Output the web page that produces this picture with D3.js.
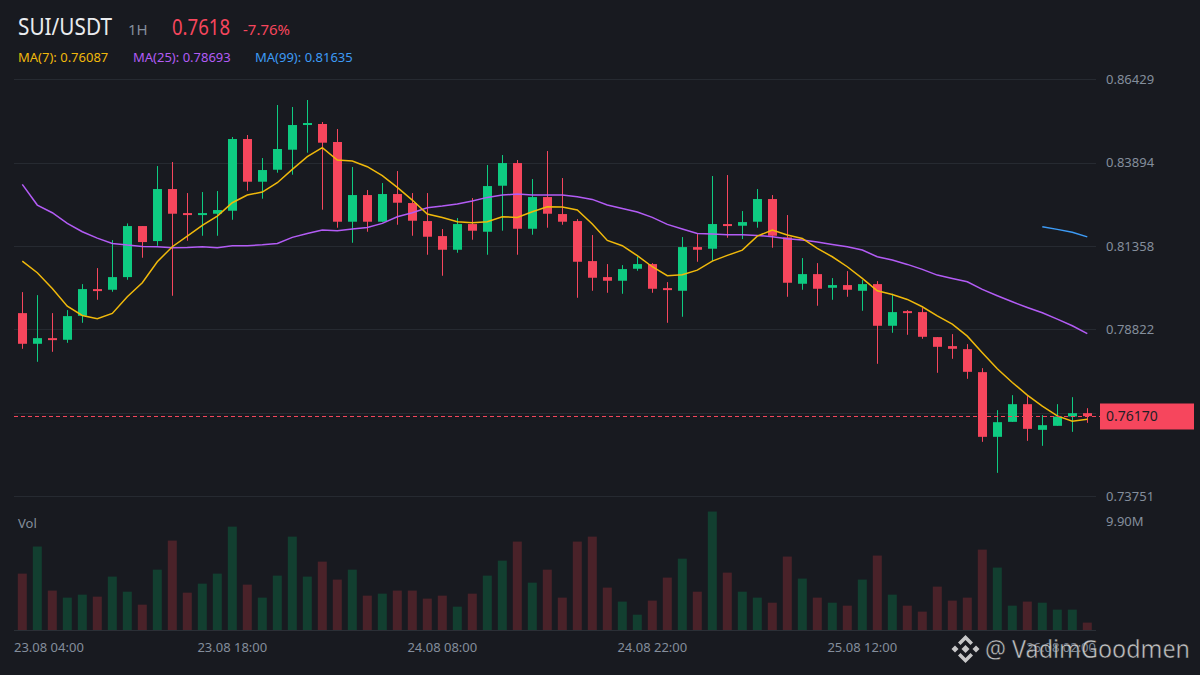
<!DOCTYPE html>
<html>
<head>
<meta charset="utf-8">
<script src="https://cdn.jsdelivr.net/npm/d3@7"></script>
<style>
  html, body { margin: 0; padding: 0; background: #181a20; }
  svg { display: block; font-family: "Noto Sans", "Open Sans", sans-serif; }
</style>
</head>
<body>
<svg id="chart" width="1200" height="675"></svg>
<script>
// candle values (23.08 04:00 ... 26.08 03:00, 1H)
var opens  = [0.79315,0.78382,0.78554,0.78504,0.79234,0.80046,0.80026,0.80411,0.81964,0.81507,
              0.83090,0.82359,0.82309,0.82339,0.82430,0.84612,0.83313,0.83678,0.84287,0.85048,
              0.85069,0.84521,0.82096,0.82907,0.82096,0.82938,0.82664,0.82116,0.81659,0.81243,
              0.82025,0.81791,0.83191,0.83881,0.81882,0.82846,0.82329,0.82116,0.80898,0.80411,
              0.80300,0.80665,0.80807,0.80076,0.79995,0.81324,0.81274,0.82025,0.81974,0.82096,
              0.82786,0.81619,0.80208,0.80502,0.80086,0.80168,0.79995,0.80198,0.78930,0.79376,
              0.79346,0.78585,0.78311,0.78219,0.77519,0.75551,0.76007,0.76545,0.75764,0.75886,
              0.76170,0.76271];
var highs  = [0.79954,0.79863,0.79315,0.79407,0.80198,0.80685,0.81537,0.82045,0.81964,0.83790,
              0.83912,0.82968,0.82999,0.83029,0.84673,0.84734,0.84034,0.85647,0.85586,0.85799,
              0.85130,0.84916,0.83760,0.83060,0.83273,0.83638,0.82968,0.82968,0.81872,0.82207,
              0.82816,0.83821,0.84125,0.83973,0.83394,0.84247,0.83425,0.82177,0.81690,0.80807,
              0.80776,0.81030,0.80837,0.80259,0.81629,0.81720,0.83486,0.83516,0.82420,0.83090,
              0.82907,0.82299,0.80990,0.80837,0.80381,0.80594,0.80320,0.80289,0.79904,0.79407,
              0.79468,0.78585,0.78676,0.78372,0.77641,0.76363,0.76819,0.76789,0.76210,0.76545,
              0.76758,0.76423];
var lows   = [0.78230,0.77834,0.78138,0.78412,0.79021,0.79721,0.79965,0.80330,0.81000,0.81365,
              0.79843,0.81517,0.81669,0.81669,0.82156,0.83039,0.82796,0.83587,0.83526,0.84196,
              0.82461,0.81913,0.81456,0.81791,0.82096,0.82004,0.81669,0.81091,0.80452,0.81152,
              0.81548,0.81091,0.81822,0.81091,0.81700,0.81913,0.82004,0.79782,0.79995,0.79934,
              0.79904,0.80604,0.79934,0.79021,0.79204,0.80878,0.80898,0.81609,0.81568,0.81913,
              0.81304,0.79812,0.80026,0.79539,0.79721,0.79812,0.79386,0.77773,0.78717,0.78656,
              0.78534,0.77499,0.77925,0.77316,0.75399,0.74455,0.76007,0.75429,0.75277,0.75886,
              0.75703,0.75977];
var closes = [0.78382,0.78554,0.78504,0.79224,0.80046,0.79985,0.80411,0.81964,0.81477,0.83090,
              0.82339,0.82309,0.82359,0.82451,0.84612,0.83313,0.83668,0.84308,0.85038,0.85099,
              0.84500,0.82096,0.82907,0.82096,0.82938,0.82674,0.82126,0.81639,0.81243,0.82025,
              0.81822,0.83181,0.83881,0.81882,0.82846,0.82339,0.82096,0.80878,0.80391,0.80300,
              0.80655,0.80807,0.80056,0.80026,0.81324,0.81243,0.82025,0.81964,0.82085,0.82786,
              0.81669,0.80239,0.80502,0.80056,0.80168,0.80026,0.80198,0.78930,0.79346,0.79325,
              0.78595,0.78290,0.78230,0.77529,0.75551,0.75997,0.76545,0.75794,0.75906,0.76170,
              0.76271,0.76180];
// volume in millions
var volumes = [5.12,7.58,3.58,2.94,3.21,3.03,4.85,3.48,2.30,5.48,
               8.12,3.39,4.21,5.12,9.39,4.12,2.94,4.94,8.48,4.85,
               6.21,4.58,5.48,3.12,3.30,3.58,3.58,2.85,3.12,2.12,
               3.30,4.94,6.30,8.03,4.30,5.48,2.94,8.03,8.48,3.85,
               2.58,1.39,2.67,4.76,6.48,3.48,10.76,5.21,3.48,2.94,
               2.48,6.67,4.67,2.94,2.48,2.21,4.58,6.76,3.21,2.21,
               1.67,3.94,2.67,2.94,7.30,5.67,2.21,2.58,2.48,1.85,
               1.85,0.67];
// moving averages as drawn
var ma7  = [0.80898,0.80543,0.80066,0.79528,0.79244,0.79143,0.79305,0.79812,0.80239,0.80878,
            0.81335,0.81659,0.81984,0.82268,0.82674,0.82907,0.82999,0.83283,0.83689,0.84074,
            0.84348,0.83973,0.83942,0.83770,0.83496,0.83141,0.82755,0.82329,0.82227,0.82096,
            0.82065,0.82096,0.82248,0.82227,0.82400,0.82552,0.82542,0.82451,0.82025,0.81527,
            0.81365,0.81061,0.80726,0.80452,0.80482,0.80624,0.80898,0.81071,0.81233,0.81659,
            0.81842,0.81690,0.81588,0.81284,0.81030,0.80726,0.80371,0.79995,0.79884,0.79731,
            0.79508,0.79234,0.78980,0.78615,0.78108,0.77621,0.77205,0.76819,0.76484,0.76190,
            0.76028,0.76087];
var ma25 = [0.83232,0.82603,0.82370,0.82045,0.81791,0.81598,0.81436,0.81385,0.81345,0.81335,
            0.81304,0.81314,0.81335,0.81304,0.81365,0.81365,0.81395,0.81436,0.81619,0.81740,
            0.81842,0.81822,0.81872,0.81923,0.82045,0.82248,0.82370,0.82522,0.82572,0.82633,
            0.82725,0.82836,0.82907,0.82938,0.82907,0.82907,0.82907,0.82857,0.82775,0.82603,
            0.82501,0.82390,0.82227,0.82014,0.81872,0.81740,0.81720,0.81700,0.81700,0.81680,
            0.81639,0.81578,0.81537,0.81477,0.81406,0.81335,0.81233,0.81030,0.80929,0.80797,
            0.80645,0.80472,0.80371,0.80269,0.80036,0.79843,0.79660,0.79488,0.79325,0.79133,
            0.78930,0.78693];
var ma99Start = 68;
var ma99 = [0.81942,0.81863,0.81775,0.81635];

var priceTicks = [0.86429,0.83894,0.81358,0.78822,0.76287,0.73751];
var timeTicks = [[0,"23.08 04:00"],[14,"23.08 18:00"],[28,"24.08 08:00"],
                 [42,"24.08 22:00"],[56,"25.08 12:00"],[70,"26.08 02:00"]];
var lastPrice = 0.76170;

var UP = "#0ecb81", DOWN = "#f6465d";
var UP_VOL = "#123f30", DOWN_VOL = "#4a2229";
var GRID = "#262a31", AXIS_TXT = "#848e9c";

var svg = d3.select("#chart");

var x = d3.scaleLinear().domain([0, 71]).range([22.3, 1087.3]);
var y = d3.scaleLinear().domain([0.73751, 0.86429]).range([496, 79.3]);
var yv = d3.scaleLinear().domain([0, 9.9]).range([630, 521]);

var left = 14, right = 1096;
var bodyW = 9;

// grid
svg.append("g").selectAll("line").data(priceTicks).join("line")
    .attr("x1", left).attr("x2", right)
    .attr("y1", function(d) { return Math.round(y(d)) + 0.5; })
    .attr("y2", function(d) { return Math.round(y(d)) + 0.5; })
    .attr("stroke", GRID).attr("stroke-width", 1);

// price axis labels (the one under the last-price tag is hidden)
svg.append("g").selectAll("text")
    .data(priceTicks.filter(function(d) { return Math.abs(y(d) - y(lastPrice)) > 14; }))
    .join("text")
    .attr("x", 1106).attr("y", function(d) { return y(d); })
    .attr("dy", "0.35em")
    .attr("fill", AXIS_TXT).attr("font-size", 13)
    .text(function(d) { return d.toFixed(5); });

// volume
var idx = d3.range(opens.length);
function isUp(i) { return closes[i] >= opens[i]; }

svg.append("g").selectAll("rect").data(idx).join("rect")
    .attr("x", function(i) { return x(i) - bodyW / 2; })
    .attr("width", bodyW)
    .attr("y", function(i) { return yv(volumes[i]); })
    .attr("height", function(i) { return yv(0) - yv(volumes[i]); })
    .attr("fill", function(i) { return isUp(i) ? UP_VOL : DOWN_VOL; });

svg.append("line")
    .attr("x1", left).attr("x2", right).attr("y1", 630.5).attr("y2", 630.5)
    .attr("stroke", "#2b2f36");

svg.append("text").attr("x", 18).attr("y", 523).attr("dy", "0.35em")
    .attr("fill", AXIS_TXT).attr("font-size", 13).text("Vol");
svg.append("text").attr("x", 1106).attr("y", yv(9.9)).attr("dy", "0.35em")
    .attr("fill", AXIS_TXT).attr("font-size", 13).text("9.90M");

// time axis labels
svg.append("g").selectAll("text").data(timeTicks).join("text")
    .attr("y", 647).attr("dy", "0.35em")
    .attr("fill", AXIS_TXT).attr("font-size", 13)
    .text(function(d) { return d[1]; })
    .each(function(d) {
      var w = this.getComputedTextLength();
      var cx = Math.max(left + w / 2, Math.min(right - w / 2, x(d[0])));
      d3.select(this).attr("x", cx).attr("text-anchor", "middle");
    });

// candles
var candles = svg.append("g");
candles.selectAll("line").data(idx).join("line")
    .attr("x1", function(i) { return Math.round(x(i)) + 0.5; })
    .attr("x2", function(i) { return Math.round(x(i)) + 0.5; })
    .attr("y1", function(i) { return y(highs[i]); })
    .attr("y2", function(i) { return y(lows[i]); })
    .attr("stroke", function(i) { return isUp(i) ? UP : DOWN; })
    .attr("stroke-width", 1);
candles.selectAll("rect").data(idx).join("rect")
    .attr("x", function(i) { return Math.round(x(i)) + 0.5 - bodyW / 2; })
    .attr("width", bodyW)
    .attr("y", function(i) { return y(Math.max(opens[i], closes[i])); })
    .attr("height", function(i) {
      return Math.max(2, Math.abs(y(opens[i]) - y(closes[i])));
    })
    .attr("fill", function(i) { return isUp(i) ? UP : DOWN; });

// moving averages
var line = d3.line()
    .x(function(d) { return x(d[0]); })
    .y(function(d) { return y(d[1]); });

svg.append("path")
    .attr("d", line(ma25.map(function(v, i) { return [i, v]; })))
    .attr("fill", "none").attr("stroke", "#b35cf5").attr("stroke-width", 1.5);
svg.append("path")
    .attr("d", line(ma7.map(function(v, i) { return [i, v]; })))
    .attr("fill", "none").attr("stroke", "#f0b90b").attr("stroke-width", 1.5);
svg.append("path")
    .attr("d", line(ma99.map(function(v, i) { return [ma99Start + i, v]; })))
    .attr("fill", "none").attr("stroke", "#3d9bf5").attr("stroke-width", 1.5);

// last price line and tag
svg.append("line")
    .attr("x1", left).attr("x2", 1100)
    .attr("y1", y(lastPrice)).attr("y2", y(lastPrice))
    .attr("stroke", DOWN).attr("stroke-width", 1).attr("stroke-dasharray", "4,3");
svg.append("rect")
    .attr("x", 1100).attr("y", y(lastPrice) - 13).attr("width", 94).attr("height", 26)
    .attr("fill", DOWN);
svg.append("text")
    .attr("x", 1106).attr("y", y(lastPrice)).attr("dy", "0.35em")
    .attr("fill", "#1e2026").attr("font-size", 14)
    .text(lastPrice.toFixed(5));

// header
var head = svg.append("g");
head.append("text").attr("x", 18).attr("y", 35)
    .attr("fill", "#eaecef").attr("font-size", 23)
    .attr("textLength", 94).attr("lengthAdjust", "spacingAndGlyphs")
    .text("SUI/USDT");
head.append("text").attr("x", 128).attr("y", 35)
    .attr("fill", AXIS_TXT).attr("font-size", 15).text("1H");
head.append("text").attr("x", 172).attr("y", 35)
    .attr("fill", DOWN).attr("font-size", 21)
    .attr("textLength", 58).attr("lengthAdjust", "spacingAndGlyphs")
    .text("0.7618");
head.append("text").attr("x", 243).attr("y", 35)
    .attr("fill", DOWN).attr("font-size", 15)
    .attr("textLength", 47).attr("lengthAdjust", "spacingAndGlyphs")
    .text("-7.76%");

var legend = [
  {x: 18, color: "#f0b90b", text: "MA(7): 0.76087"},
  {x: 133, color: "#b35cf5", text: "MA(25): 0.78693"},
  {x: 255, color: "#3d9bf5", text: "MA(99): 0.81635"}
];
head.selectAll("text.ma").data(legend).join("text")
    .attr("class", "ma")
    .attr("x", function(d) { return d.x; }).attr("y", 62)
    .attr("fill", function(d) { return d.color; })
    .attr("font-size", 13)
    .text(function(d) { return d.text; });

// watermark
var wm = svg.append("g").attr("opacity", 0.85);
var logo = wm.append("g").attr("transform", "translate(965.5,649)").attr("fill", "#e6e6e6");
logo.append("path").attr("d", "M0,-14 L7.5,-6.5 L5,-4 L0,-9 L-5,-4 L-7.5,-6.5 Z");
logo.append("path").attr("d", "M0,14 L7.5,6.5 L5,4 L0,9 L-5,4 L-7.5,6.5 Z");
logo.append("path").attr("d", "M-14,0 L-10.5,-3.5 L-7,0 L-10.5,3.5 Z");
logo.append("path").attr("d", "M14,0 L10.5,-3.5 L7,0 L10.5,3.5 Z");
logo.append("path").attr("d", "M0,-4 L4,0 L0,4 L-4,0 Z");
wm.append("text").attr("x", 985).attr("y", 658)
    .attr("fill", "#e0e0e0").attr("font-size", 25)
    .attr("stroke", "#181a20").attr("stroke-width", 0.5)
    .attr("textLength", 205).attr("lengthAdjust", "spacingAndGlyphs")
    .text("@ VadimGoodmen");
</script>
</body>
</html>
